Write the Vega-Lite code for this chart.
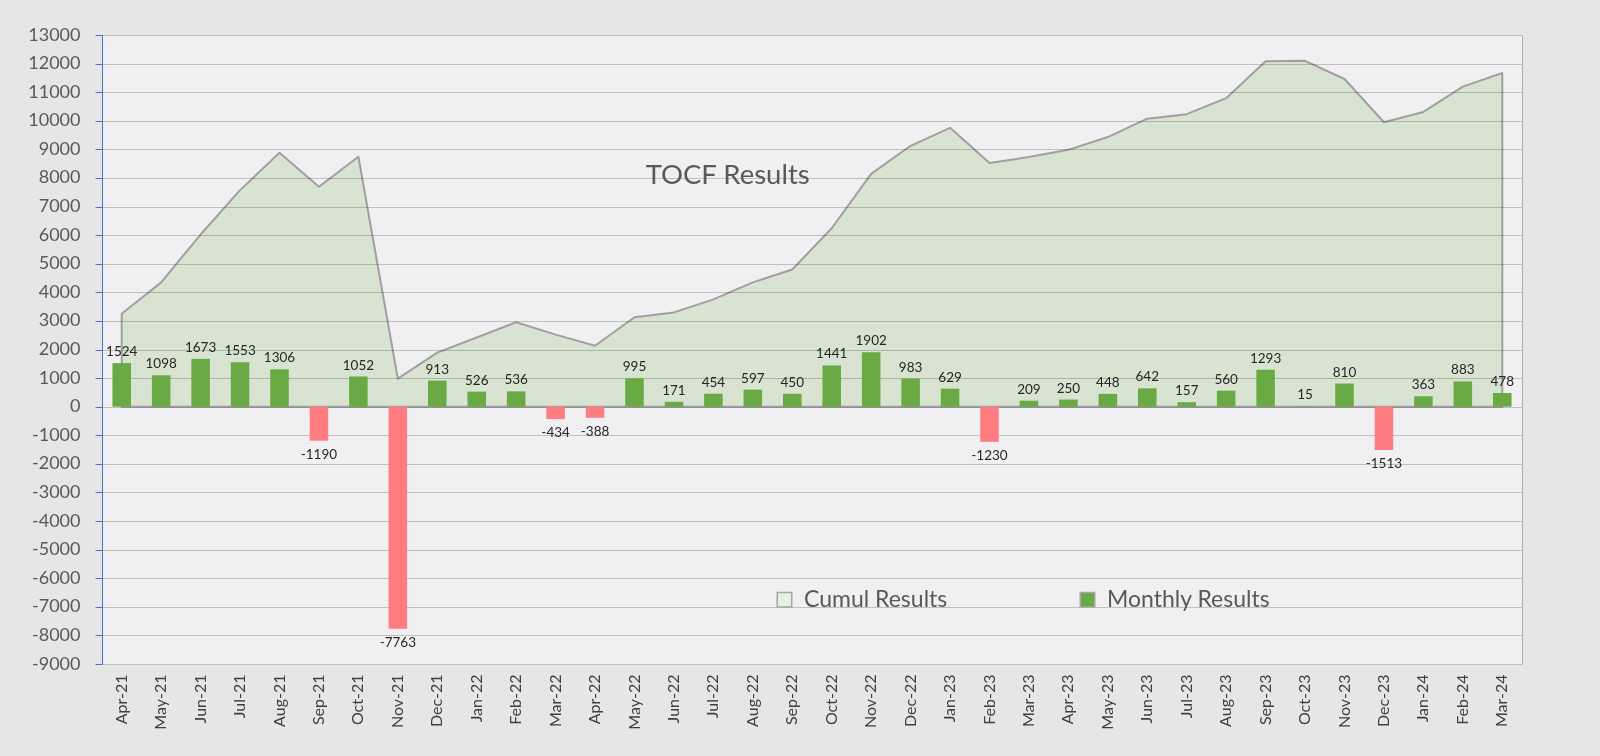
{
  "$schema": "https://vega.github.io/schema/vega-lite/v6.json",
  "autosize": "none",
  "width": 1420,
  "height": 629,
  "padding": {"left": 102, "top": 35, "right": 78, "bottom": 92},
  "background": "#e7e6e6",
  "config": {
    "font": "Lato",
    "view": {"fill": "#f0f0f2", "stroke": "#b0b0b0", "strokeWidth": 1},
    "axisY": {
      "tickCount": 22,
      "labelOverlap": false,
      "labelExpr": "datum.value + ''",
      "labelFontSize": 18,
      "labelColor": "#595959",
      "labelPadding": 15,
      "tickSize": 7,
      "tickColor": "#4472c4",
      "domainColor": "#4472c4",
      "domainWidth": 1,
      "gridColor": "#c0c0c0",
      "gridWidth": 1
    },
    "legend": {
      "orient": "none",
      "legendX": 671,
      "legendY": 553,
      "direction": "horizontal",
      "columns": 2,
      "columnPadding": 128,
      "symbolType": "square",
      "symbolSize": 210,
      "symbolOffset": 0,
      "symbolStrokeColor": "#a6a6a6",
      "symbolStrokeWidth": 1.5,
      "labelOffset": 8,
      "labelFontSize": 23,
      "labelColor": "#595959",
      "labelLimit": 400
    }
  },
  "data": {
    "values": [
      {"month": "Apr-21", "monthly": 1524, "cumul": 3250},
      {"month": "May-21", "monthly": 1098, "cumul": 4348},
      {"month": "Jun-21", "monthly": 1673, "cumul": 6021},
      {"month": "Jul-21", "monthly": 1553, "cumul": 7574},
      {"month": "Aug-21", "monthly": 1306, "cumul": 8880},
      {"month": "Sep-21", "monthly": -1190, "cumul": 7690},
      {"month": "Oct-21", "monthly": 1052, "cumul": 8742},
      {"month": "Nov-21", "monthly": -7763, "cumul": 979},
      {"month": "Dec-21", "monthly": 913, "cumul": 1892},
      {"month": "Jan-22", "monthly": 526, "cumul": 2418},
      {"month": "Feb-22", "monthly": 536, "cumul": 2954},
      {"month": "Mar-22", "monthly": -434, "cumul": 2520},
      {"month": "Apr-22", "monthly": -388, "cumul": 2132},
      {"month": "May-22", "monthly": 995, "cumul": 3127},
      {"month": "Jun-22", "monthly": 171, "cumul": 3298},
      {"month": "Jul-22", "monthly": 454, "cumul": 3752},
      {"month": "Aug-22", "monthly": 597, "cumul": 4349},
      {"month": "Sep-22", "monthly": 450, "cumul": 4799},
      {"month": "Oct-22", "monthly": 1441, "cumul": 6240},
      {"month": "Nov-22", "monthly": 1902, "cumul": 8142},
      {"month": "Dec-22", "monthly": 983, "cumul": 9125},
      {"month": "Jan-23", "monthly": 629, "cumul": 9754},
      {"month": "Feb-23", "monthly": -1230, "cumul": 8524},
      {"month": "Mar-23", "monthly": 209, "cumul": 8733},
      {"month": "Apr-23", "monthly": 250, "cumul": 8983},
      {"month": "May-23", "monthly": 448, "cumul": 9431},
      {"month": "Jun-23", "monthly": 642, "cumul": 10073},
      {"month": "Jul-23", "monthly": 157, "cumul": 10230},
      {"month": "Aug-23", "monthly": 560, "cumul": 10790},
      {"month": "Sep-23", "monthly": 1293, "cumul": 12083},
      {"month": "Oct-23", "monthly": 15, "cumul": 12098},
      {"month": "Nov-23", "monthly": 810, "cumul": 11460},
      {"month": "Dec-23", "monthly": -1513, "cumul": 9947},
      {"month": "Jan-24", "monthly": 363, "cumul": 10310},
      {"month": "Feb-24", "monthly": 883, "cumul": 11193},
      {"month": "Mar-24", "monthly": 478, "cumul": 11671}
    ]
  },
  "encoding": {
    "x": {
      "field": "month",
      "type": "ordinal",
      "sort": null,
      "scale": {"paddingInner": 0.53, "paddingOuter": 0.265},
      "axis": {
        "title": null,
        "labelAngle": 270,
        "labelFontSize": 16,
        "labelColor": "#404040",
        "labelPadding": 10,
        "ticks": false,
        "domain": false,
        "grid": false
      }
    }
  },
  "layer": [
    {
      "mark": {"type": "area", "blend": "multiply", "stroke": "#aaaaaa", "strokeWidth": 2, "strokeJoin": "round"},
      "encoding": {
        "x": {"field": "month", "type": "ordinal", "sort": null, "bandPosition": 0.5},
        "y": {
          "field": "cumul",
          "type": "quantitative",
          "title": null,
          "scale": {"domain": [-9000, 13000], "nice": false, "zero": false}
        },
        "y2": {"datum": 0},
        "color": {
          "datum": "Cumul Results",
          "scale": {"domain": ["Cumul Results", "Monthly Results"], "range": ["#e6f2dd", "#6aaa45"]},
          "legend": {"title": null, "values": ["Cumul Results", "Monthly Results"]}
        }
      }
    },
    {
      "mark": {"type": "bar"},
      "encoding": {
        "y": {"field": "monthly", "type": "quantitative", "title": null},
        "y2": {"datum": 0},
        "color": {
          "datum": "Monthly Results",
          "condition": {"test": "datum.monthly < 0", "value": "#ff7c80"}
        }
      }
    },
    {
      "transform": [{"filter": "datum.monthly >= 0"}],
      "mark": {"type": "text", "baseline": "bottom", "dy": -4, "fontSize": 13.5, "color": "#262626"},
      "encoding": {
        "x": {"field": "month", "type": "ordinal", "sort": null, "bandPosition": 0.5},
        "y": {"field": "monthly", "type": "quantitative", "title": null},
        "text": {"field": "monthly", "type": "nominal"}
      }
    },
    {
      "transform": [{"filter": "datum.monthly < 0"}],
      "mark": {"type": "text", "baseline": "top", "dy": 7, "fontSize": 13.5, "color": "#262626"},
      "encoding": {
        "x": {"field": "month", "type": "ordinal", "sort": null, "bandPosition": 0.5},
        "y": {"field": "monthly", "type": "quantitative", "title": null},
        "text": {"field": "monthly", "type": "nominal"}
      }
    },
    {
      "data": {"values": [{"label": "TOCF Results"}]},
      "mark": {"type": "text", "fontSize": 27.5, "color": "#595959", "align": "center", "baseline": "middle", "dx": 5},
      "encoding": {
        "x": {"datum": "Jul-22", "type": "ordinal", "bandPosition": 1},
        "y": {"datum": 8080, "type": "quantitative"},
        "text": {"field": "label"}
      }
    }
  ]
}
